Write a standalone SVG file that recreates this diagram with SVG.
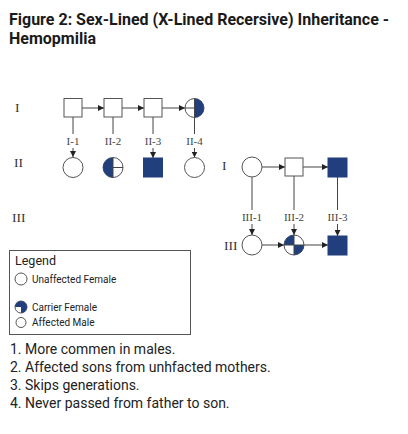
<svg xmlns="http://www.w3.org/2000/svg" width="408" height="434" viewBox="0 0 408 434">
<style>
.title{font-family:Roboto,"Liberation Sans",sans-serif;font-weight:bold;font-size:16px;fill:#1a1a1a}
.gen{font-family:"Liberation Serif",serif;font-size:13.5px;fill:#333}
.lab{font-family:"Liberation Serif",serif;font-size:11px;fill:#444;text-anchor:middle}
.sym{fill:#fff;stroke:#555;stroke-width:1}
.aff{fill:#223f7d;stroke:#223f7d;stroke-width:1}
.dark{fill:#223f7d}
.ln{stroke:#444;stroke-width:1;fill:none}
.leg{font-family:Roboto,"Liberation Sans",sans-serif;font-size:10px;fill:#222}
.legt{font-family:Roboto,"Liberation Sans",sans-serif;font-size:12.5px;fill:#222}
.list{font-family:Roboto,"Liberation Sans",sans-serif;font-size:14px;fill:#222}
</style>
<defs>
<marker id="ah" viewBox="0 0 6 6" refX="6" refY="3" markerWidth="6" markerHeight="6" markerUnits="userSpaceOnUse" orient="auto">
<path d="M0,0 L6,3 L0,6 Z" fill="#222"/>
</marker>
</defs>
<rect width="408" height="434" fill="#fff"/>
<text class="title" x="9" y="25">Figure 2: Sex-Lined (X-Lined Recersive) Inheritance -</text>
<text class="title" x="9" y="44">Hemopmilia</text>

<text class="gen" x="15" y="112">I</text>
<text class="gen" x="14" y="167">II</text>
<text class="gen" x="12" y="222">III</text>

<g id="connectors">
<line class="ln" x1="82" y1="108" x2="104" y2="108" marker-end="url(#ah)"/>
<line class="ln" x1="122" y1="108" x2="144" y2="108" marker-end="url(#ah)"/>
<line class="ln" x1="162" y1="108" x2="185" y2="108" marker-end="url(#ah)"/>
<line class="ln" x1="73" y1="117" x2="73" y2="134"/>
<line class="ln" x1="73" y1="148" x2="73" y2="157" marker-end="url(#ah)"/>
<line class="ln" x1="113" y1="117" x2="113" y2="134"/>
<line class="ln" x1="153" y1="117" x2="153" y2="134"/>
<line class="ln" x1="153" y1="148" x2="153" y2="158" marker-end="url(#ah)"/>
<line class="ln" x1="194.5" y1="117.5" x2="194.5" y2="134"/>
<line class="ln" x1="194.5" y1="148" x2="194.5" y2="157.5" marker-end="url(#ah)"/>
<line class="ln" x1="262" y1="167" x2="285" y2="167" marker-end="url(#ah)"/>
<line class="ln" x1="303" y1="167" x2="328" y2="167" marker-end="url(#ah)"/>
<line class="ln" x1="252" y1="177" x2="252" y2="210"/>
<line class="ln" x1="252" y1="224" x2="252" y2="235" marker-end="url(#ah)"/>
<line class="ln" x1="294" y1="176" x2="294" y2="210"/>
<line class="ln" x1="294" y1="224" x2="294" y2="235" marker-end="url(#ah)"/>
<line class="ln" x1="337.5" y1="177" x2="337.5" y2="210"/>
<line class="ln" x1="337.5" y1="224" x2="337.5" y2="236" marker-end="url(#ah)"/>
<line class="ln" x1="262" y1="245" x2="284" y2="245" marker-end="url(#ah)"/>
<line class="ln" x1="304" y1="245" x2="328" y2="245" marker-end="url(#ah)"/>
</g>

<text class="lab" x="73" y="145">I-1</text>
<text class="lab" x="113" y="145">II-2</text>
<text class="lab" x="153" y="145">II-3</text>
<text class="lab" x="194.5" y="145">II-4</text>
<text class="lab" x="252" y="221">III-1</text>
<text class="lab" x="294" y="221">III-2</text>
<text class="lab" x="337.5" y="221">III-3</text>

<g id="n-I-1"><rect class="sym" x="64" y="98.5" width="18" height="18.5"/></g>
<g id="n-I-2"><rect class="sym" x="104" y="98.5" width="18" height="18.5"/></g>
<g id="n-I-3"><rect class="sym" x="144" y="98.5" width="18" height="18.5"/></g>
<g id="n-I-4">
<circle class="sym" cx="194.5" cy="108" r="9.5"/>
<path class="dark" d="M194.5,98.5 A9.5,9.5 0 0 1 194.5,117.5 Z"/>
<line class="ln" x1="185" y1="108" x2="194.5" y2="108"/>
<line class="ln" x1="194.5" y1="98.5" x2="194.5" y2="117.5"/>
</g>

<g id="n-II-1"><circle class="sym" cx="73" cy="167.5" r="10"/></g>
<g id="n-II-2">
<circle class="sym" cx="113" cy="167.5" r="10"/>
<path class="dark" d="M113,157.5 A10,10 0 0 0 113,177.5 Z"/>
<line class="ln" x1="113" y1="167.5" x2="123" y2="167.5"/>
<line class="ln" x1="113" y1="157.5" x2="113" y2="177.5"/>
</g>
<g id="n-II-3"><rect class="aff" x="143.5" y="158" width="19" height="19"/></g>
<g id="n-II-4"><circle class="sym" cx="194.5" cy="167.5" r="10"/></g>

<text class="gen" x="222" y="170">I</text>
<text class="gen" x="224" y="250">III</text>

<g id="n-R-I-1"><circle class="sym" cx="252" cy="167" r="10"/></g>
<g id="n-R-I-2"><rect class="sym" x="285" y="158" width="18" height="18"/></g>
<g id="n-R-I-3"><rect class="aff" x="328" y="158" width="19" height="19"/></g>

<g id="n-III-1"><circle class="sym" cx="252" cy="245" r="10"/></g>
<g id="n-III-2">
<circle class="sym" cx="294" cy="245" r="10"/>
<path class="dark" d="M294,245 L284,245 A10,10 0 0 1 294,235 Z"/>
<path class="dark" d="M294,245 L304,245 A10,10 0 0 1 294,255 Z"/>
<line class="ln" x1="284" y1="245" x2="304" y2="245"/>
<line class="ln" x1="294" y1="235" x2="294" y2="255"/>
</g>
<g id="n-III-3"><rect class="aff" x="328" y="236" width="19" height="19"/></g>

<g id="legend">
<rect x="9.5" y="250.5" width="181" height="84" fill="#fff" stroke="#555" stroke-width="1"/>
<text class="legt" x="15" y="265">Legend</text>
<circle class="sym" cx="21" cy="279" r="6"/>
<text class="leg" x="32" y="282.5">Unaffected Female</text>
<circle class="sym" cx="21" cy="307" r="6"/>
<path class="dark" d="M21,307 L15,307 A6,6 0 0 1 21,301 Z"/>
<path class="dark" d="M21,307 L27,307 A6,6 0 0 1 21,313 Z"/>
<path class="dark" d="M21,307 L21,301 A6,6 0 0 1 27,307 Z"/>
<text class="leg" x="32" y="310.5">Carrier Female</text>
<circle class="sym" cx="21" cy="322.5" r="5"/>
<text class="leg" x="32" y="326">Affected Male</text>
</g>

<text class="list" x="10" y="354">1. More commen in males.</text>
<text class="list" x="10" y="372">2. Affected sons from unhfacted mothers.</text>
<text class="list" x="10" y="390">3. Skips generations.</text>
<text class="list" x="10" y="408">4. Never passed from father to son.</text>
</svg>
